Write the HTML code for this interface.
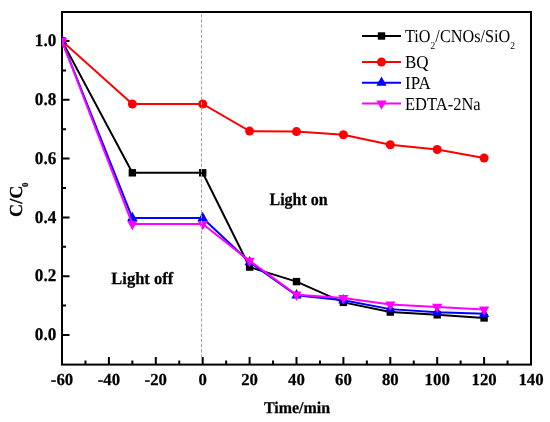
<!DOCTYPE html>
<html><head><meta charset="utf-8"><style>
html,body{margin:0;padding:0;background:#fff;}
svg{display:block;will-change:transform;}
text{font-family:"Liberation Serif",serif;text-rendering:geometricPrecision;}
text[font-weight="bold"]{stroke:#000;stroke-width:0.25px;}
</style></head><body>
<svg width="550" height="422" viewBox="0 0 550 422">
<rect width="550" height="422" fill="#fff"/>
<defs><clipPath id="pc"><rect x="62.0" y="12.0" width="469.0" height="352.6"/></clipPath></defs>

<path d="M62.00 364.60V357.10M85.45 364.60V360.60M108.90 364.60V357.10M132.35 364.60V360.60M155.80 364.60V357.10M179.25 364.60V360.60M202.70 364.60V357.10M226.15 364.60V360.60M249.60 364.60V357.10M273.05 364.60V360.60M296.50 364.60V357.10M319.95 364.60V360.60M343.40 364.60V357.10M366.85 364.60V360.60M390.30 364.60V357.10M413.75 364.60V360.60M437.20 364.60V357.10M460.65 364.60V360.60M484.10 364.60V357.10M507.55 364.60V360.60M531.00 364.60V357.10M62.00 335.00H69.50M62.00 305.60H66.00M62.00 276.20H69.50M62.00 246.80H66.00M62.00 217.40H69.50M62.00 188.00H66.00M62.00 158.60H69.50M62.00 129.20H66.00M62.00 99.80H69.50M62.00 70.40H66.00M62.00 41.00H69.50" stroke="#000" stroke-width="2" fill="none"/>
<rect x="62.0" y="12.0" width="469.0" height="352.6" fill="none" stroke="#000" stroke-width="2.0"/>
<g clip-path="url(#pc)">
<polyline points="62.00,41.00 132.35,172.80 202.70,172.80 249.60,267.09 296.50,281.61 343.40,302.37 390.30,312.07 437.20,314.80 484.10,317.95" fill="none" stroke="#000000" stroke-width="2.0" stroke-linejoin="miter"/>
<rect x="58.30" y="37.30" width="7.4" height="7.4" fill="#000000"/>
<rect x="128.65" y="169.10" width="7.4" height="7.4" fill="#000000"/>
<rect x="199.00" y="169.10" width="7.4" height="7.4" fill="#000000"/>
<rect x="245.90" y="263.39" width="7.4" height="7.4" fill="#000000"/>
<rect x="292.80" y="277.91" width="7.4" height="7.4" fill="#000000"/>
<rect x="339.70" y="298.67" width="7.4" height="7.4" fill="#000000"/>
<rect x="386.60" y="308.37" width="7.4" height="7.4" fill="#000000"/>
<rect x="433.50" y="311.10" width="7.4" height="7.4" fill="#000000"/>
<rect x="480.40" y="314.25" width="7.4" height="7.4" fill="#000000"/>
<polyline points="62.00,41.00 132.35,104.00 202.70,104.00 249.60,131.11 296.50,131.61 343.40,134.70 390.30,144.78 437.20,149.49 484.10,158.01" fill="none" stroke="#ff0000" stroke-width="2.0" stroke-linejoin="miter"/>
<circle cx="62.00" cy="41.00" r="4.5" fill="#ff0000"/>
<circle cx="132.35" cy="104.00" r="4.5" fill="#ff0000"/>
<circle cx="202.70" cy="104.00" r="4.5" fill="#ff0000"/>
<circle cx="249.60" cy="131.11" r="4.5" fill="#ff0000"/>
<circle cx="296.50" cy="131.61" r="4.5" fill="#ff0000"/>
<circle cx="343.40" cy="134.70" r="4.5" fill="#ff0000"/>
<circle cx="390.30" cy="144.78" r="4.5" fill="#ff0000"/>
<circle cx="437.20" cy="149.49" r="4.5" fill="#ff0000"/>
<circle cx="484.10" cy="158.01" r="4.5" fill="#ff0000"/>
<polyline points="62.00,41.00 132.35,217.99 202.70,217.99 249.60,262.09 296.50,295.31 343.40,300.31 390.30,309.13 437.20,312.19 484.10,313.83" fill="none" stroke="#0000ff" stroke-width="2.0" stroke-linejoin="miter"/>
<polygon points="56.90,44.10 67.10,44.10 62.00,34.80" fill="#0000ff"/>
<polygon points="127.25,221.09 137.45,221.09 132.35,211.79" fill="#0000ff"/>
<polygon points="197.60,221.09 207.80,221.09 202.70,211.79" fill="#0000ff"/>
<polygon points="244.50,265.19 254.70,265.19 249.60,255.89" fill="#0000ff"/>
<polygon points="291.40,298.41 301.60,298.41 296.50,289.11" fill="#0000ff"/>
<polygon points="338.30,303.41 348.50,303.41 343.40,294.11" fill="#0000ff"/>
<polygon points="385.20,312.23 395.40,312.23 390.30,302.93" fill="#0000ff"/>
<polygon points="432.10,315.29 442.30,315.29 437.20,305.99" fill="#0000ff"/>
<polygon points="479.00,316.93 489.20,316.93 484.10,307.63" fill="#0000ff"/>
<polyline points="62.00,41.00 132.35,224.01 202.70,224.01 249.60,260.91 296.50,294.72 343.40,298.10 390.30,304.57 437.20,306.89 484.10,309.57" fill="none" stroke="#ff00ff" stroke-width="2.0" stroke-linejoin="miter"/>
<polygon points="56.90,37.90 67.10,37.90 62.00,47.20" fill="#ff00ff"/>
<polygon points="127.25,220.91 137.45,220.91 132.35,230.21" fill="#ff00ff"/>
<polygon points="197.60,220.91 207.80,220.91 202.70,230.21" fill="#ff00ff"/>
<polygon points="244.50,257.81 254.70,257.81 249.60,267.11" fill="#ff00ff"/>
<polygon points="291.40,291.62 301.60,291.62 296.50,300.92" fill="#ff00ff"/>
<polygon points="338.30,295.00 348.50,295.00 343.40,304.30" fill="#ff00ff"/>
<polygon points="385.20,301.47 395.40,301.47 390.30,310.77" fill="#ff00ff"/>
<polygon points="432.10,303.79 442.30,303.79 437.20,313.09" fill="#ff00ff"/>
<polygon points="479.00,306.47 489.20,306.47 484.10,315.77" fill="#ff00ff"/>
</g>
<line x1="201.5" y1="14.1" x2="201.5" y2="363.5" stroke="#a4a4a4" stroke-width="1" stroke-dasharray="3.4 1.756"/>
<text x="62.00" y="385" font-size="16.8" font-weight="bold" text-anchor="middle">-60</text>
<text x="108.90" y="385" font-size="16.8" font-weight="bold" text-anchor="middle">-40</text>
<text x="155.80" y="385" font-size="16.8" font-weight="bold" text-anchor="middle">-20</text>
<text x="202.70" y="385" font-size="16.8" font-weight="bold" text-anchor="middle">0</text>
<text x="249.60" y="385" font-size="16.8" font-weight="bold" text-anchor="middle">20</text>
<text x="296.50" y="385" font-size="16.8" font-weight="bold" text-anchor="middle">40</text>
<text x="343.40" y="385" font-size="16.8" font-weight="bold" text-anchor="middle">60</text>
<text x="390.30" y="385" font-size="16.8" font-weight="bold" text-anchor="middle">80</text>
<text x="437.20" y="385" font-size="16.8" font-weight="bold" text-anchor="middle">100</text>
<text x="484.10" y="385" font-size="16.8" font-weight="bold" text-anchor="middle">120</text>
<text x="531.00" y="385" font-size="16.8" font-weight="bold" text-anchor="middle">140</text>
<text transform="translate(56.3,340.20) scale(1,1.04)" font-size="17.2" font-weight="bold" text-anchor="end">0.0</text>
<text transform="translate(56.3,281.40) scale(1,1.04)" font-size="17.2" font-weight="bold" text-anchor="end">0.2</text>
<text transform="translate(56.3,222.60) scale(1,1.04)" font-size="17.2" font-weight="bold" text-anchor="end">0.4</text>
<text transform="translate(56.3,163.80) scale(1,1.04)" font-size="17.2" font-weight="bold" text-anchor="end">0.6</text>
<text transform="translate(56.3,105.00) scale(1,1.04)" font-size="17.2" font-weight="bold" text-anchor="end">0.8</text>
<text transform="translate(56.3,46.20) scale(1,1.04)" font-size="17.2" font-weight="bold" text-anchor="end">1.0</text>
<text transform="translate(297,413) scale(0.965,1)" font-size="16.5" font-weight="bold" text-anchor="middle">Time/min</text>
<g transform="translate(22,217) rotate(-90)"><text x="0" y="0" font-size="18.3" font-weight="bold">C/C<tspan font-size="8.8" dy="6.0" dx="-1.4">0</tspan></text></g>
<text transform="translate(269.5,205.0) scale(0.97,1.06)" font-size="16.5" font-weight="bold">Light on</text>
<text transform="translate(111.3,283.8) scale(1,1.04)" font-size="16.5" font-weight="bold">Light off</text>
<line x1="362" y1="36" x2="401" y2="36" stroke="#000" stroke-width="2"/>
<rect x="377.80" y="32.30" width="7.4" height="7.4" fill="#000"/>
<text transform="translate(405,42) scale(0.955,1.07)" font-size="17.0">TiO<tspan font-size="10" dy="6.5">2</tspan><tspan dy="-6.5">/CNOs/SiO</tspan><tspan font-size="10" dy="6.5">2</tspan></text>
<line x1="362" y1="62" x2="401" y2="62" stroke="#ff0000" stroke-width="2"/>
<circle cx="381.50" cy="62.00" r="4.5" fill="#ff0000"/>
<text transform="translate(405,68) scale(1.0,1.07)" font-size="17.0">BQ</text>
<line x1="362" y1="82.7" x2="401" y2="82.7" stroke="#0000ff" stroke-width="2"/>
<polygon points="376.40,85.80 386.60,85.80 381.50,76.50" fill="#0000ff"/>
<text transform="translate(405,88.7) scale(1.0,1.07)" font-size="17.0">IPA</text>
<line x1="362" y1="103.5" x2="401" y2="103.5" stroke="#ff00ff" stroke-width="2"/>
<polygon points="376.40,100.40 386.60,100.40 381.50,109.70" fill="#ff00ff"/>
<text transform="translate(405,109.5) scale(0.97,1.07)" font-size="17.0">EDTA-2Na</text>
</svg></body></html>
